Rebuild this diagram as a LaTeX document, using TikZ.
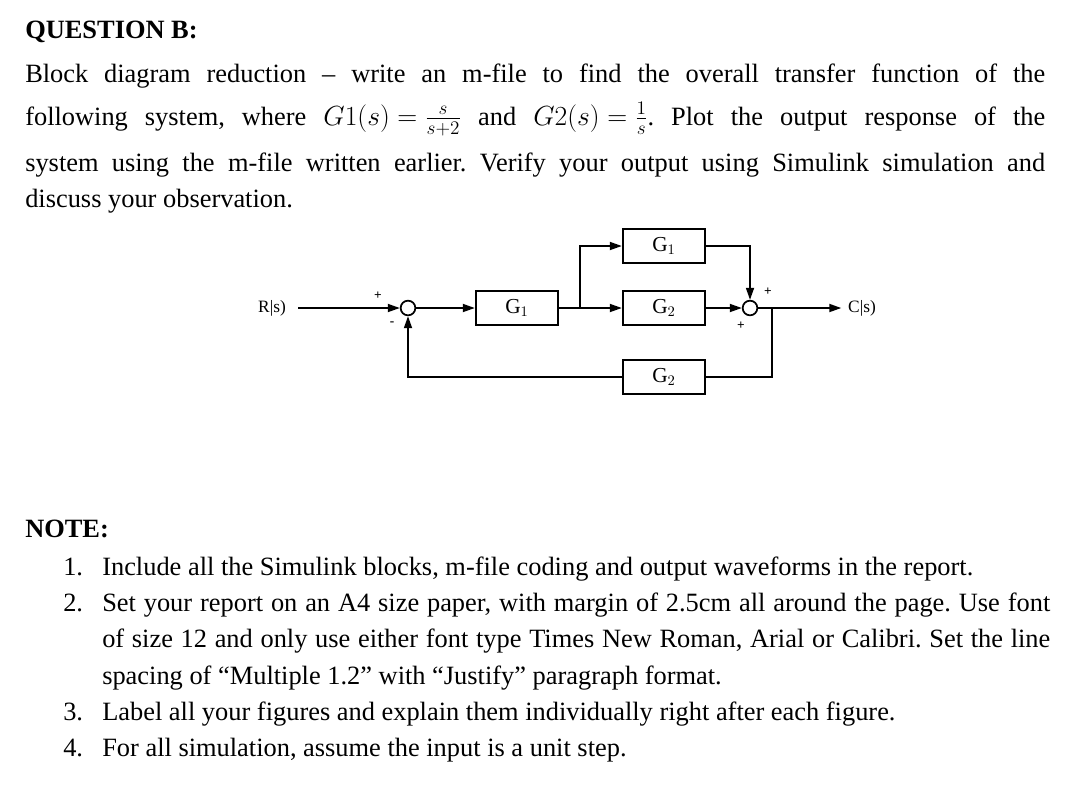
\documentclass[tikz,border=0pt]{standalone}
\usepackage{fontspec}
\setmainfont{Liberation Serif}
\usetikzlibrary{arrows.meta}
\begin{document}
\frenchspacing
\begin{tikzpicture}[x=0.75pt,y=-0.75pt,
  txt/.style={anchor=base west,inner sep=0pt,font=\fontsize{19.8}{23}\selectfont},
  blk/.style={draw,line width=1.3pt,minimum width=62pt,minimum height=26pt,inner sep=0pt,font=\fontsize{16}{18}\selectfont},
  sumj/.style={draw,circle,line width=1.3pt,minimum size=11pt,inner sep=0pt},
  sg/.style={font=\fontsize{10}{12}\selectfont\bfseries,inner sep=1pt},
  ln/.style={line width=1.3pt},
  ar/.style={line width=1.3pt,-{Triangle[length=9pt,width=6pt]}},
  lab/.style={font=\fontsize{13}{15}\selectfont,inner sep=1pt}]
\useasboundingbox[fill=white] (0,0) rectangle (1080,807);
\node[txt,font=\fontsize{19.8}{23}\selectfont\bfseries] (q) at (25,38) {QUESTION B:};
\node[txt] (l1) at (25,82) {\makebox[765pt][s]{Block diagram reduction -- write an m-file to find the overall transfer function of the}};
\node[txt] (l2) at (25,125) {\makebox[765pt][s]{following system, where \mbox{$G1(s)=\frac{s}{s+2}$} and \mbox{$G2(s)=\frac{1}{s}$.} Plot the output response of the}};
\node[txt] (l3) at (25,171) {\makebox[765pt][s]{system using the m-file written earlier. Verify your output using Simulink simulation and}};
\node[txt] (l4) at (25,207) {discuss your observation.};
\node[txt,font=\fontsize{19.8}{23}\selectfont\bfseries] (n) at (25,537) {NOTE:};
\node[txt] (n1) at (63,575) {1.};
\node[txt] (t1) at (102,575) {Include all the Simulink blocks, m-file coding and output waveforms in the report.};
\node[txt] (n2) at (63,611) {2.};
\node[txt] (t2) at (102,611) {\makebox[711pt][s]{Set your report on an A4 size paper, with margin of 2.5cm all around the page. Use font}};
\node[txt] (t2b) at (102,647) {\makebox[711pt][s]{of size 12 and only use either font type Times New Roman, Arial or Calibri. Set the line}};
\node[txt] (t2c) at (102,684) {spacing of “Multiple 1.2” with “Justify” paragraph format.};
\node[txt] (n3) at (63,720) {3.};
\node[txt] (t3) at (102,720) {Label all your figures and explain them individually right after each figure.};
\node[txt] (n4) at (63,756) {4.};
\node[txt] (t4) at (102,756) {For all simulation, assume the input is a unit step.};
% diagram
\node[lab] (r) at (272,308) {R|s)};
\node[sumj] (s1) at (408,308) {};
\node[blk] (g1) at (517,308) {G$_1$};
\node[blk] (g1t) at (664,246) {G$_1$};
\node[blk] (g2) at (664,308) {G$_2$};
\node[blk] (g2b) at (664,377) {G$_2$};
\node[sumj] (s2) at (750,308) {};
\node[lab] (c) at (862,308) {C|s)};
\coordinate (sp) at (580,308);
\coordinate (tp) at (772,308);
\draw[ar] ([xshift=8pt]r.east) -- (s1.west);
\draw[ar] (s1) -- (g1);
\draw[ln] (g1.east) -- (sp);
\draw[ar] (sp) -- (g2.west);
\draw[ar] (sp) |- (g1t.west);
\draw[ar] (g1t.east) -| (s2.north);
\draw[ar] (g2.east) -- (s2.west);
\draw[ar] (s2.east) -- ([xshift=-4pt]c.west);
\draw[ln] (tp) |- (g2b.east);
\draw[ar] (g2b.west) -| (s1.south);
\node[sg] at (378,296) {+};
\node[sg] at (392,324) {-};
\node[sg] at (768,292) {+};
\node[sg] at (741,326) {+};
\end{tikzpicture}
\end{document}
